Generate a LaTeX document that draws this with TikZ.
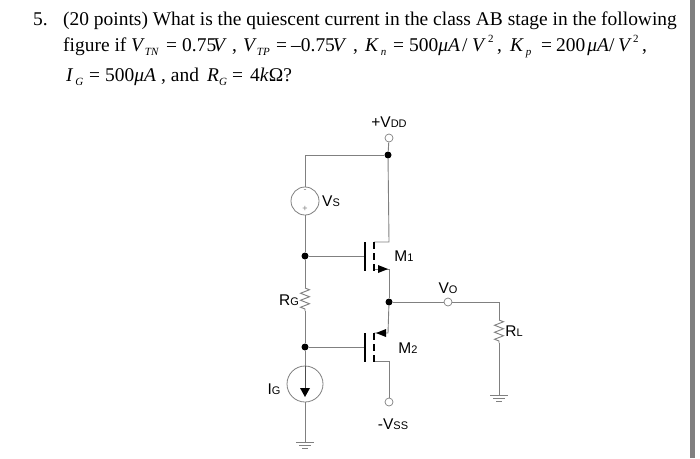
\documentclass[tikz,border=0pt]{standalone}
\usepackage{fontspec}
\setmainfont{Liberation Serif}
\setsansfont{Liberation Sans}
\usetikzlibrary{calc}
\usetikzlibrary{decorations.pathmorphing}
\definecolor{wirecol}{gray}{0.5}
\newcommand{\lowsub}[1]{\raisebox{-0.25em}{\fontsize{11}{11}\selectfont\textit{#1}}}
\newcommand{\highsup}[1]{\raisebox{0.42em}{\fontsize{11}{11}\selectfont #1}}
\newcommand{\lbl}[2]{\fontsize{15.5}{15}\selectfont #1\fontsize{11}{11}\selectfont #2}
\newcommand{\pc}[2]{\makebox[#1pt][l]{#2}}
\tikzset{
    wire/.style={wirecol, line width=0.9pt},
    bar/.style={black, line width=1.6pt},
    dot/.style={circle, fill=black, inner sep=0pt, minimum size=7pt},
    term/.style={circle, draw=wirecol, fill=white, line width=0.7pt, inner sep=0pt, minimum size=8pt},
    srcnode/.style={circle, draw=wirecol, line width=0.8pt, inner sep=0pt},
    res/.style={wire, decorate, decoration={zigzag, amplitude=4.5pt, segment length=7pt}},
    textline/.style={anchor=base west, inner sep=0pt, font=\fontsize{19.45}{20}\selectfont},
    lab/.style={inner sep=0pt, font=\sffamily}
}
\begin{document}
\begin{tikzpicture}[x=1pt, y=-1pt]
    \useasboundingbox (0,0) rectangle (700,458);
    \fill[white] (0,0) rectangle (700,458);
    \fill[black!50] (690,0) rectangle (695,458);

    % Question text
    \node[textline] (num) at (33,25) {5.};
    \node[textline] (lineA) at (63,25) {(20 points) What is the quiescent current in the class AB stage in the following};
    \node[textline] (lineB) at (63,51) {\pc{68}{figure if}\pc{35}{\textit{V}\lowsub{TN}}\pc{16}{=}\pc{50}{0.75\hspace{-3pt}\textit{V}}\pc{11}{,}\pc{33}{\textit{V}\lowsub{TP}}\pc{15}{=}\pc{62}{--0.75\hspace{-2pt}\textit{V}}\pc{12}{,}\pc{28}{\textit{K}\lowsub{\,n}}\pc{16}{=}\pc{53}{500\textit{μA}}\pc{10}{/}\pc{16}{\textit{V}}\pc{9}{\highsup{2}}\pc{13}{,}\pc{31}{\textit{K}\lowsub{\,p}}\pc{15}{=}\pc{53}{200\hspace{2pt}\textit{μA}}\pc{9}{/}\pc{15}{\textit{V}}\pc{9}{\highsup{2}},};
    \node[textline] (lineC) at (66,81) {\pc{23}{\textit{I}\lowsub{\,G}}\pc{16}{=}\pc{56}{500\textit{μA}}\pc{46}{, and}\pc{25}{\textit{R}\lowsub{G}}\pc{18}{=}4\textit{k}Ω?};

    % Junctions and terminals
    \node[term] (vdd) at (389,138) {};
    \node[dot] (top) at (388,155) {};
    \node[dot] (gateA) at (305,256) {};
    \node[dot] (out) at (389,302) {};
    \node[dot] (gateB) at (305,347) {};
    \node[term] (vo) at (448,302) {};
    \node[term] (vss) at (389,402) {};

    % Sources
    \node[srcnode, minimum size=28pt] (vs) at (305,201) {};
    \node[srcnode, minimum size=36pt] (ig) at (305,384) {};
    \node[inner sep=0pt, wirecol, font=\sffamily\fontsize{9}{9}\selectfont] (vsm) at (305,191) {-};
    \node[inner sep=0pt, wirecol, font=\sffamily\fontsize{9}{9}\selectfont] (vsp) at (305,209) {+};

    % Corner points of the wires
    \coordinate (tl) at (305,155);
    \coordinate (ra) at (305,288);
    \coordinate (rb) at (305,311);
    \coordinate (gbarA) at (365,256);
    \coordinate (gbarB) at (365,347);
    \coordinate (dA) at (374,242);
    \coordinate (dAr) at (389,242);
    \coordinate (sA) at (374,269);
    \coordinate (sAr) at (389,269);
    \coordinate (sB) at (374,333);
    \coordinate (sBr) at (388,333);
    \coordinate (dB) at (374,361);
    \coordinate (dBr) at (389,361);
    \coordinate (cor) at (499,302);
    \coordinate (rc) at (499,320);
    \coordinate (rd) at (499,343);
    \coordinate (gndA) at (305,442);
    \coordinate (gndB) at (499,395);

    % Wires
    \draw[wire] (vdd) -- (top);
    \draw[wire] (top) -- (tl) -- (vs);
    \draw[wire] (top) -- (dAr) -- (dA);
    \draw[wire] (vs) -- (gateA);
    \draw[wire] (gateA) -- (ra);
    \draw[res] (ra) -- (rb);
    \draw[wire] (rb) -- (gateB);
    \draw[wire] (gateB) -- (ig);
    \draw[wire] (ig) -- (gndA);
    \draw[wire] (gateA) -- (gbarA);
    \draw[wire] (gateB) -- (gbarB);
    \draw[wire] (sA) -- (sAr) -- (out);
    \draw[wire] (out) -- (sBr) -- (sB);
    \draw[wire] (dB) -- (dBr) -- (vss);
    \draw[wire] (out) -- (vo);
    \draw[wire] (vo) -- (cor) -- (rc);
    \draw[res] (rc) -- (rd);
    \draw[wire] (rd) -- (gndB);

    % Gate bars and channels
    \foreach \gy in {242, 333} {
        \draw[bar] (365,\gy) -- (365,\gy+29);
        \draw[bar] (374,\gy) -- (374,\gy+7);
        \draw[bar] (374,\gy+11) -- (374,\gy+18);
        \draw[bar] (374,\gy+22) -- (374,\gy+29);
    }

    % Arrow heads
    \fill (378,265) -- (388,269) -- (378,273) -- cycle;
    \fill (386,329) -- (376,333) -- (386,337) -- cycle;
    \draw[wire, black!70] (ig.north) -- (305,390);
    \fill (300,388) -- (310,388) -- (305,397) -- cycle;

    % Grounds
    \foreach \gx/\gy in {305/442, 499/395} {
        \draw[wire, line width=0.7pt] (\gx-9,\gy) -- (\gx+9,\gy);
        \draw[wire, line width=0.7pt] (\gx-6,\gy+3) -- (\gx+6,\gy+3);
        \draw[wire, line width=0.7pt] (\gx-3,\gy+6) -- (\gx+3,\gy+6);
    }

    % Labels
    \node[lab] (vddlab) at (389,122) {\lbl{+V}{DD}};
    \node[lab] (vslab) at (331,201) {\lbl{V}{S}};
    \node[lab] (mAlab) at (404,256) {\lbl{M}{1}};
    \node[lab] (volab) at (448,288) {\lbl{V}{O}};
    \node[lab] (rglab) at (289,300) {\lbl{R}{G}};
    \node[lab] (rllab) at (514,331) {\lbl{R}{L}};
    \node[lab] (mBlab) at (408,348) {\lbl{M}{2}};
    \node[lab] (iglab) at (274,389) {\lbl{I}{G}};
    \node[lab] (vsslab) at (393,424) {\lbl{-V}{SS}};
\end{tikzpicture}
\end{document}
